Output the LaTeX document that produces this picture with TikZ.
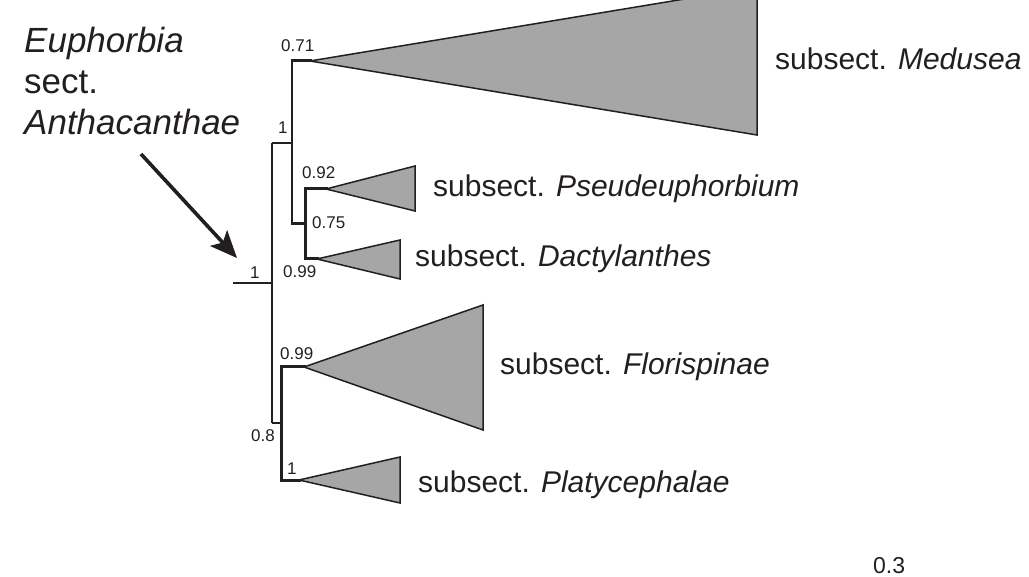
\documentclass[tikz,border=0pt]{standalone}
\usepackage{fontspec}
\setmainfont{Liberation Sans}
\usetikzlibrary{arrows.meta, positioning, calc}
\definecolor{ink}{HTML}{231F20}
\definecolor{clade}{HTML}{A6A6A6}

\begin{document}
\begin{tikzpicture}[
		x=1pt, y=-1pt,
		font=\fontsize{30}{36}\selectfont,
		thinbr/.style={draw=ink, line width=1.6pt},
		thickbr/.style={draw=ink, line width=3pt, line cap=rect},
		tri/.style={draw=ink, fill=clade, line width=1.5pt, line join=miter},
		pp/.style={inner sep=0pt, anchor=base west, text=ink, font=\fontsize{17}{20}\selectfont},
		taxon/.style={inner sep=0pt, anchor=base west, text=ink},
		arrow/.style={-{Stealth[length=27pt, width=23pt, inset=6pt]}, line width=3.6pt, draw=ink}
		]
		\useasboundingbox (0,0) rectangle (1029,577);
		\clip (0,0) rectangle (1029,577);
		
		% 1. Tree points
		\coordinate (stem) at (233,283);
		\coordinate (root) at (272,283);
		\coordinate (rU) at (272,143);
		\coordinate (rL) at (272,423);
		\coordinate (u) at (292,143);
		\coordinate (uMed) at (292,61);
		\coordinate (uPD) at (292,224);
		\coordinate (pd) at (305,224);
		\coordinate (pdP) at (305,189);
		\coordinate (pdD) at (305,259);
		\coordinate (l) at (281,423);
		\coordinate (lF) at (281,367);
		\coordinate (lP) at (281,480);
		
		% 2. Collapsed clades
		\coordinate (med) at (310,61);
		\coordinate (pse) at (326,189);
		\coordinate (dac) at (317,259);
		\coordinate (flo) at (304,367);
		\coordinate (pla) at (299,480);
		\draw[tri] (med) -- (757,-13) -- (757,135) -- cycle;
		\draw[tri] (pse) -- (415,166) -- (415,211) -- cycle;
		\draw[tri] (dac) -- (400,240) -- (400,279) -- cycle;
		\draw[tri] (flo) -- (483,305) -- (483,430) -- cycle;
		\draw[tri] (pla) -- (400,457) -- (400,503) -- cycle;
		
		% 3. Branches
		\draw[thinbr] (stem) -- (root);
		\draw[thinbr] (rU) -- (rL);
		\draw[thinbr] (rU) -- (u);
		\draw[thinbr] (rL) -- (l);
		\draw[draw=ink, line width=2.2pt] (uMed) -- (uPD);
		\draw[thickbr] (uMed) -- (med);
		\draw[thickbr] (uPD) -- (pd);
		\draw[thickbr] (pdP) -- (pdD);
		\draw[thickbr] (pdP) -- (pse);
		\draw[thickbr] (pdD) -- (dac);
		\draw[thickbr] (lF) -- (lP);
		\draw[thickbr] (lF) -- (flo);
		\draw[thickbr] (lP) -- (pla);
		
		% 4. Support values
		\node[pp] (sRoot) at (250,279) {1};
		\node[pp] (sU) at (278,134) {1};
		\node[pp] (sMed) at (281,52) {0.71};
		\node[pp] (sPse) at (302,179) {0.92};
		\node[pp] (sPD) at (312,229) {0.75};
		\node[pp] (sDac) at (283,278) {0.99};
		\node[pp] (sFlo) at (280,360) {0.99};
		\node[pp] (sL) at (251,442) {0.8};
		\node[pp] (sPla) at (287,475) {1};
		
		% 5. Subsections
		\node[taxon] (tMed) at (775,70) {subsect. \textit{Medusea}};
		\node[taxon] (tPse) at (433,197) {subsect. \textit{Pseudeuphorbium}};
		\node[taxon] (tDac) at (415,267) {subsect. \textit{Dactylanthes}};
		\node[taxon] (tFlo) at (500,375) {subsect. \textit{Florispinae}};
		\node[taxon] (tPla) at (418,492) {subsect. \textit{Platycephalae}};
		
		% 6. Section label and arrow
		\node[taxon, align=left, font=\fontsize{35}{41}\selectfont] (sect) at (24,135)
			{\textit{Euphorbia}\\sect.\\\textit{Anthacanthae}};
		\coordinate (sectTip) at (237,258);
		\draw[arrow] (141,154) -- (sectTip);
		
		% 7. Scale
		\node[taxon, font=\fontsize{23}{27}\selectfont] (scale) at (873,573) {0.3};
	\end{tikzpicture}
\end{document}
